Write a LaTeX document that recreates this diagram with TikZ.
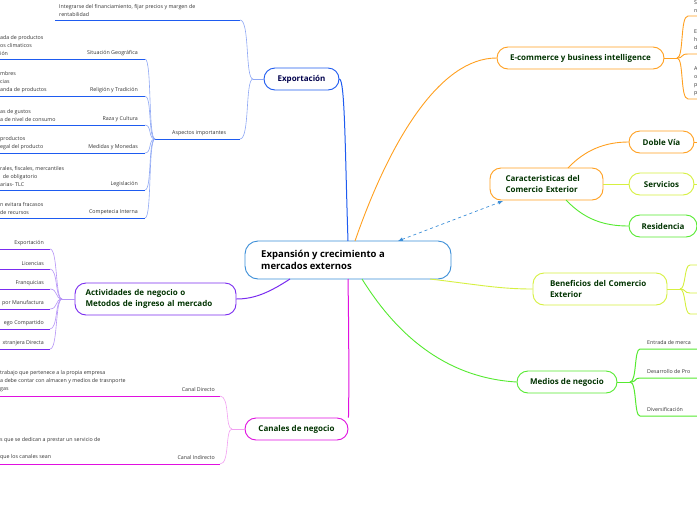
\documentclass[tikz,border=0pt]{standalone}
\usepackage{fontspec}
\setmainfont{Open Sans}
\definecolor{cb}{HTML}{3B8ED8}
\definecolor{xb}{HTML}{1E5BF0}
\definecolor{xbl}{HTML}{8FA8F5}
\definecolor{xp}{HTML}{7A2CF0}
\definecolor{xpl}{HTML}{B694F7}
\definecolor{xm}{HTML}{E010E0}
\definecolor{xml}{HTML}{F2A0F2}
\definecolor{xo}{HTML}{FFA020}
\definecolor{xy}{HTML}{D6F040}
\definecolor{xg}{HTML}{55EA30}
\begin{document}
\begin{tikzpicture}[x=1pt,y=-1pt,
  sm/.style={font=\fontsize{5.3}{8}\selectfont,inner sep=0pt,text=black!80,align=left},
  topic/.style={draw,rounded corners=11pt,line width=0.9pt,fill=white,font=\bfseries\fontsize{8}{11}\selectfont,text=green!20!black,align=left,inner sep=0pt},
  bl/.style={draw=xb,line width=1pt},
  blc/.style={draw=xbl,line width=0.6pt},
  pu/.style={draw=xp,line width=1pt},
  puc/.style={draw=xpl,line width=0.6pt},
  mg/.style={draw=xm,line width=1pt},
  mgc/.style={draw=xml,line width=0.6pt},
  org/.style={draw=xo,line width=0.9pt},
  yg/.style={draw=xy,line width=0.9pt},
  gr/.style={draw=xg,line width=0.9pt}]
\useasboundingbox (0,0) rectangle (697,520);
\fill[white] (0,0) rectangle (697,520);
% center
\node[draw=cb,line width=0.9pt,rounded corners=13pt,minimum width=206pt,minimum height=38pt,fill=white] (c) at (348,260) {};
\node[font=\bfseries\fontsize{9.5}{12.5}\selectfont,align=left,anchor=west,inner sep=0pt] (ct) at (261,260) {Expansión y crecimiento a\\mercados externos};
% Exportacion
\coordinate (cE) at (348,241);
\node[topic,draw=xb,minimum width=75pt,minimum height=22pt,text=blue!30!black] (exp) at (301.5,79) {Exportación};
\draw[bl] (cE) .. controls (345,150) and (345,80) .. (exp.east);
\coordinate (j1) at (253,79);
\draw[blc] (exp.west) -- (j1);
\node[sm,anchor=south west] (tl) at (59,17) {Integrarse del financiamiento, fijar precios y margen de\\rentabilidad};
\coordinate (t1a) at (55,20); \coordinate (t1b) at (240,20);
\draw[bl] (t1a) -- (t1b);
\draw[blc] (t1b) .. controls (250,20) and (245,79) .. (j1);
\node[sm,anchor=south west] (asp) at (172,136) {Aspectos importantes};
\coordinate (a1) at (155,139); \coordinate (a2) at (240,139);
\draw[bl] (a1) -- (a2);
\draw[blc] (a2) .. controls (250,139) and (245,79) .. (j1);
\foreach \y/\lab/\frag in {59/Situación Geográfica/{ada de productos\\os climaticos\\ión},
  96/Religión y Tradición/{mbres\\cias\\anda de productos},
  125/Raza y Cultura/{as de gustos\\a de nivel de consumo},
  153/Medidas y Monedas/{productos\\egal del producto},
  190/Legislación/{rales, fiscales, mercantiles\\\ \ de obligatorio\\arias- TLC},
  218/Competecia Interna/{n evitara fracasos\\de recursos}}{
  \node[sm,anchor=south east] (l\y) at (138,\y-3) {\lab};
  \node[sm,anchor=south west] (f\y) at (0,\y-3) {\frag};
  \coordinate (s\y) at (0,\y); \coordinate (e\y) at (145,\y);
  \draw[bl] (s\y) -- (e\y);
  \draw[blc] (e\y) .. controls (152,\y) and (148,139) .. (a1);
}
% Actividades
\node[topic,draw=xp,minimum width=161pt,minimum height=32pt,text width=140pt] (act) at (155.5,299) {Actividades de negocio o\\Metodos de ingreso al mercado};
\draw[pu] (290,279) .. controls (270,292) and (255,299) .. (act.east);
\coordinate (j2) at (62,299);
\draw[puc] (act.west) -- (j2);
\foreach \y/\lab in {249/Exportación,269/Licencias,289/Franquicias,309/por Manufactura,329/ego Compartido,349/xtranjera Directa}{
  \node[sm,anchor=south east] (p\y) at (44,\y-3) {\lab};
  \coordinate (ps\y) at (0,\y); \coordinate (pe\y) at (50,\y);
  \draw[pu] (ps\y) -- (pe\y);
  \draw[puc] (pe\y) .. controls (58,\y) and (55,299) .. (j2);
}
% Canales
\node[topic,draw=xm,minimum width=103pt,minimum height=22pt] (can) at (296.5,429) {Canales de negocio};
\draw[mg] (348,279) .. controls (349,340) and (349,400) .. (can.north east);
\coordinate (j3) at (232,429);
\draw[mgc] (can.west) -- (j3);
\node[sm,anchor=south east] (cd) at (215,392) {Canal Directo};
\node[sm,anchor=south west] (cdf) at (0,392) {trabajo que pertenece a la propia empresa\\a debe contar con almacen y medios de trasnporte\\gas};
\coordinate (d1) at (0,396); \coordinate (d2) at (220,396);
\draw[mg] (d1) -- (d2);
\draw[mgc] (d2) .. controls (230,396) and (225,429) .. (j3);
\node[sm,anchor=south east] (ci) at (215,460) {Canal Indirecto};
\node[sm,anchor=south west] (cif1) at (0,443) {s que se dedican a prestar un servicio de};
\node[sm,anchor=south west] (cif2) at (0,460) {que los canales sean};
\coordinate (i1) at (0,464); \coordinate (i2) at (220,464);
\draw[mg] (i1) -- (i2);
\draw[mgc] (i2) .. controls (230,464) and (225,429) .. (j3);
% E-commerce
\node[topic,draw=xo,minimum width=167pt,minimum height=22pt] (ec) at (580.5,58) {E-commerce y business intelligence};
\draw[org] (355,241) .. controls (390,140) and (440,58) .. (ec.west);
\coordinate (j4) at (677,58);
\draw[org] (ec.east) -- (j4);
\foreach \y in {16,54,99}{
  \coordinate (es\y) at (688,\y); \coordinate (ee\y) at (697,\y);
  \draw[org] (j4) .. controls (684,58) and (680,\y) .. (es\y) -- (ee\y);
}
\node[sm,anchor=south west] (ta) at (694,13) {S\\n};
\node[sm,anchor=south west] (tb) at (694,50) {E\\h\\d};
\node[sm,anchor=south west] (tc) at (694,96) {A\\o\\p\\p};
% Caracteristicas
\node[topic,draw=xo,minimum width=113pt,minimum height=32pt,text width=82pt] (car) at (546.5,184) {Caracteristicas del\\Comercio Exterior};
\coordinate (da) at (398,241);
\coordinate (db) at (503,201);
\draw[dashed,cb,line width=0.7pt,<->,>=latex] (da) -- (db);
\node[topic,draw=xo,minimum width=65pt,minimum height=22pt] (dv) at (661.5,142) {Doble Vía};
\node[topic,draw=xy,minimum width=65pt,minimum height=22pt] (sv) at (661.5,184) {Servicios};
\node[topic,draw=xg,minimum width=68pt,minimum height=22pt] (rs) at (663,226) {Residencia};
\draw[org] (568,168) .. controls (585,150) and (605,142) .. (dv.west);
\draw[yg] (car.east) -- (sv.west);
\draw[gr] (566,200) .. controls (585,220) and (605,226) .. (rs.west);
\draw[org] (dv.east) -- (697,142);
\draw[yg] (sv.east) -- (697,184);
% Beneficios
\node[topic,draw=xy,minimum width=134pt,minimum height=32pt,text width=100pt] (ben) at (600,289) {Beneficios del Comercio\\Exterior};
\draw[yg] (430,279) .. controls (480,285) and (500,289) .. (ben.west);
\coordinate (j5) at (680,289);
\draw[yg] (ben.east) -- (j5);
\foreach \y in {265,293,314}{
  \coordinate (bs\y) at (690,\y); \coordinate (be\y) at (697,\y);
  \draw[yg] (j5) .. controls (686,289) and (684,\y) .. (bs\y) -- (be\y);
}
% Medios
\node[topic,draw=xg,minimum width=100pt,minimum height=22pt] (med) at (567,382) {Medios de negocio};
\draw[gr] (362,279) .. controls (400,340) and (450,378) .. (med.west);
\coordinate (j6) at (630,382);
\draw[gr] (med.east) -- (j6);
\foreach \y/\lab in {349/Entrada de merca,378/Desarrollo de Pro,416/Diversificación}{
  \node[sm,anchor=south west] (m\y) at (647,\y-4) {\lab};
  \coordinate (ms\y) at (640,\y); \coordinate (me\y) at (697,\y);
  \draw[gr,line width=1pt] (j6) .. controls (637,382) and (634,\y) .. (ms\y) -- (me\y);
}
\end{tikzpicture}
\end{document}
